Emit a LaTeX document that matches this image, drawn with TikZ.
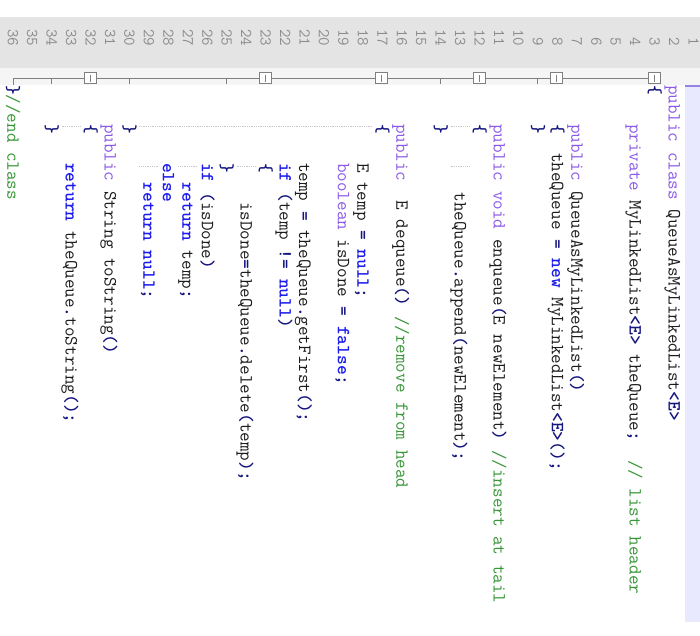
\documentclass[tikz,border=0pt]{standalone}
\usepackage{fontspec}
\definecolor{kwpurple}{RGB}{140,90,232}
\definecolor{insblue}{RGB}{28,28,236}
\definecolor{opnavy}{RGB}{22,22,128}
\definecolor{cmgreen}{RGB}{56,150,56}
\definecolor{idblack}{RGB}{28,28,28}
\definecolor{lngray}{RGB}{140,140,140}
\definecolor{gutterfill}{RGB}{228,228,228}
\definecolor{foldmarginfill}{RGB}{245,245,245}
\definecolor{curlinefill}{RGB}{232,232,255}
\definecolor{caretcol}{RGB}{150,130,225}
\definecolor{foldgray}{RGB}{128,128,128}
\definecolor{guidegray}{RGB}{200,200,200}
\newcommand\Kw[1]{\textcolor{kwpurple}{#1}}
\newcommand\Ins[1]{\textcolor{insblue}{\bfseries #1}}
\newcommand\Op[1]{\textcolor{opnavy}{\bfseries #1}}
\newcommand\Cm[1]{\textcolor{cmgreen}{#1}}
\newcommand\CodeLine[3]{%
  \pgfmathsetmacro\CodeX{693-(#1-1)*19.45-5}%
  \pgfmathsetmacro\CodeY{-(85+#2*9.77)}%
  \node[codeline] (L#1) at (\CodeX,\CodeY) {#3};}
\newcommand\GuideSeg[3]{% from line #1 to line #2 at column y #3
  \pgfmathsetmacro\GA{693-(#1-1)*19.45+9.7}%
  \pgfmathsetmacro\GB{693-(#2-1)*19.45-9.7}%
  \coordinate (ga#1x#3) at (\GA,-#3);
  \coordinate (gb#1x#3) at (\GB,-#3);
  \draw[guide] (ga#1x#3) -- (gb#1x#3);}
\begin{document}
\begin{tikzpicture}[x=1pt,y=1pt,
  codeline/.style={rotate=-90, anchor=base west, inner sep=0pt, outer sep=0pt,
    font=\ttfamily\fontsize{18.6}{20}\selectfont, text=idblack},
  lnum/.style={rotate=-90, anchor=base east, inner sep=0pt, outer sep=0pt,
    font=\ttfamily\fontsize{16.5}{18}\selectfont, text=lngray},
  foldbox/.style={draw=foldgray, fill=white, minimum width=12pt, minimum height=11pt,
    inner sep=0pt, outer sep=0pt, line width=0.8pt},
  foldline/.style={draw=foldgray, line width=0.8pt},
  foldmark/.style={draw=foldgray, line width=0.8pt},
  guide/.style={draw=guidegray, line width=0.8pt, densely dotted},
]
\useasboundingbox (0,0) rectangle (700,-635);
\fill[white] (0,0) rectangle (700,-635);
\fill[gutterfill] (0,-17) rectangle (700,-68);
\fill[foldmarginfill] (0,-68) rectangle (700,-85);
\fill[curlinefill] (685,-85) rectangle (700,-622);
\coordinate (caretA) at (685,-86);
\coordinate (caretB) at (700,-86);
\draw[caretcol, line width=1.2pt] (caretA) -- (caretB);

% line numbers
\foreach \k in {1,...,36}{
  \pgfmathsetmacro\xx{693-(\k-1)*19.45-4.5}
  \node[lnum] (n\k) at (\xx,-46) {\k};
}

% fold margin
\foreach \k in {3,8,12,17,23,32}{
  \pgfmathsetmacro\xx{693-(\k-1)*19.45}
  \node[foldbox] (f\k) at (\xx,-78) {};
  \draw[foldmark] ([yshift=3.5pt]f\k.center) -- ([yshift=-3.5pt]f\k.center);
}
\coordinate (foldend) at (13,-78);
\draw[foldline] (foldend) -- (f32) -- (f23) -- (f17) -- (f12) -- (f8) -- (f3);
\draw[foldline] (foldend) -- ++(0,-7);
\foreach \k in {9,14,25,30,34}{
  \pgfmathsetmacro\xx{693-(\k-1)*19.45}
  \coordinate (t\k) at (\xx,-78);
  \draw[foldline] (t\k) -- ++(0,-6);
}

% indent guides
\GuideSeg{13}{13}{126}
\GuideSeg{18}{29}{126}
\GuideSeg{33}{33}{126}
\GuideSeg{13}{13}{166}
\GuideSeg{24}{24}{166}
\GuideSeg{27}{27}{166}
\GuideSeg{29}{29}{166}

% code
\CodeLine{2}{0}{\Kw{public} \Kw{class} QueueAsMyLinkedList\Op{<E>}}
\CodeLine{3}{0}{\Op{\{}}
\CodeLine{4}{4}{\Kw{private} MyLinkedList\Op{<E>} theQueue\Op{;}\ \ \Cm{//\ list\ header}}
\CodeLine{7}{4}{\Kw{public} QueueAsMyLinkedList\Op{()}}
\CodeLine{8}{4}{\Op{\{}\ \ theQueue \Op{=} \Ins{new} MyLinkedList\Op{<E>();}}
\CodeLine{9}{4}{\Op{\}}}
\CodeLine{11}{4}{\Kw{public} \Kw{void} enqueue\Op{(}E newElement\Op{)} \Cm{//insert\ at\ tail}}
\CodeLine{12}{4}{\Op{\{}}
\CodeLine{13}{11}{theQueue\Op{.}append\Op{(}newElement\Op{);}}
\CodeLine{14}{4}{\Op{\}}}
\CodeLine{16}{4}{\Kw{public}\ \ E dequeue\Op{()} \Cm{//remove\ from\ head}}
\CodeLine{17}{4}{\Op{\{}}
\CodeLine{18}{8}{E temp \Op{=} \Ins{null}\Op{;}}
\CodeLine{19}{8}{\Kw{boolean} isDone \Op{=} \Ins{false}\Op{;}}
\CodeLine{21}{8}{temp \Op{=} theQueue\Op{.}getFirst\Op{();}}
\CodeLine{22}{8}{\Ins{if} \Op{(}temp \Op{!=} \Ins{null}\Op{)}}
\CodeLine{23}{8}{\Op{\{}}
\CodeLine{24}{12}{isDone\Op{=}theQueue\Op{.}delete\Op{(}temp\Op{);}}
\CodeLine{25}{8}{\Op{\}}}
\CodeLine{26}{8}{\Ins{if} \Op{(}isDone\Op{)}}
\CodeLine{27}{10}{\Ins{return} temp\Op{;}}
\CodeLine{28}{8}{\Ins{else}}
\CodeLine{29}{10}{\Ins{return} \Ins{null}\Op{;}}
\CodeLine{30}{4}{\Op{\}}}
\CodeLine{31}{4}{\Kw{public} String toString\Op{()}}
\CodeLine{32}{4}{\Op{\{}}
\CodeLine{33}{8}{\Ins{return} theQueue\Op{.}toString\Op{();}}
\CodeLine{34}{4}{\Op{\}}}
\CodeLine{36}{0}{\Op{\}}\Cm{//end\ class}}
\end{tikzpicture}
\end{document}
